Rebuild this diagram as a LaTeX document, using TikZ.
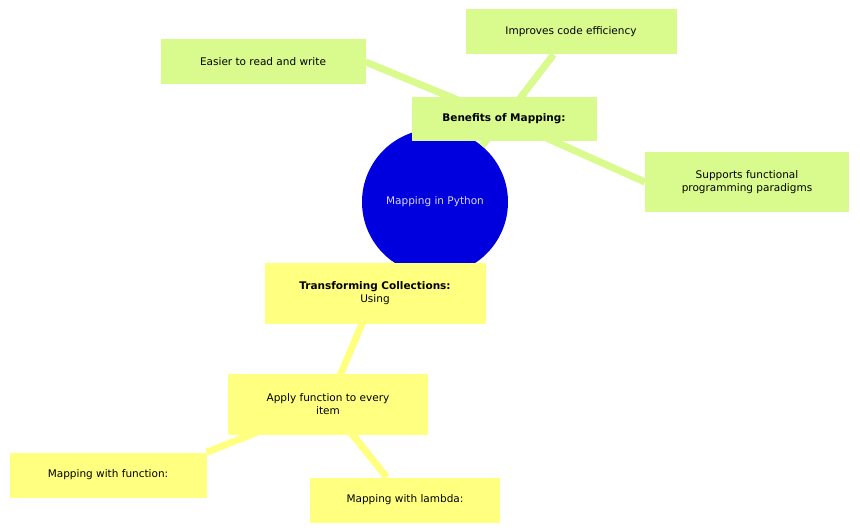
\documentclass[tikz,border=0pt]{standalone}
\usepackage{fontspec}
\setmainfont{DejaVu Sans}
\definecolor{grn}{RGB}{217,250,140}
\definecolor{ylw}{RGB}{255,255,128}
\definecolor{blu}{RGB}{0,0,222}
\begin{document}
\begin{tikzpicture}[x=1pt,y=-1pt,
  box/.style={rectangle,inner sep=0,minimum width=#1,align=center,font=\fontsize{10.5}{13}\selectfont},
  gbox/.style={box=#1,fill=grn,minimum height=45},
  ybox/.style={box=#1,fill=ylw,minimum height=45},
  gl/.style={draw=grn,line width=7},
  yl/.style={draw=ylw,line width=7}]
\useasboundingbox (0,0) rectangle (860,532);
\node[circle,fill=blu,minimum size=146,inner sep=0,text=white!85!blu,font=\fontsize{10.5}{13}\selectfont] (root) at (435,202) {Mapping in Python};
\coordinate (ben) at (504,119);
\coordinate (tr) at (375,293);
\coordinate (ap) at (328,404);
\draw[gl] (root) -- (ben);
\draw[yl] (root) -- (tr);
\node[gbox=205] (eas) at (263,62) {Easier to read and write};
\node[gbox=211] (imp) at (571,32) {Improves code efficiency};
\node[gbox=204,minimum height=60] (sup) at (747,182) {Supports functional\\programming paradigms};
\node[ybox=197] (fun) at (108,475) {Mapping with function:};
\node[ybox=190] (lam) at (405,500) {Mapping with lambda:};
\draw[gl] (ben) -- (eas.east);
\draw[gl] (ben) -- (imp);
\draw[gl] (ben) -- (sup.west);
\draw[yl] (tr) -- (ap);
\draw[yl] (ap) -- (fun.north east);
\draw[yl] (ap) -- (lam);
\node[gbox=185,minimum height=44,font=\fontsize{10.5}{13}\selectfont\bfseries] (b) at (ben) {Benefits of Mapping:};
\node[ybox=221,minimum height=61] (t) at (tr) {\textbf{Transforming Collections:}\\Using};
\node[ybox=200,minimum height=61] (a) at (ap) {Apply function to every\\item};
\end{tikzpicture}
\end{document}
